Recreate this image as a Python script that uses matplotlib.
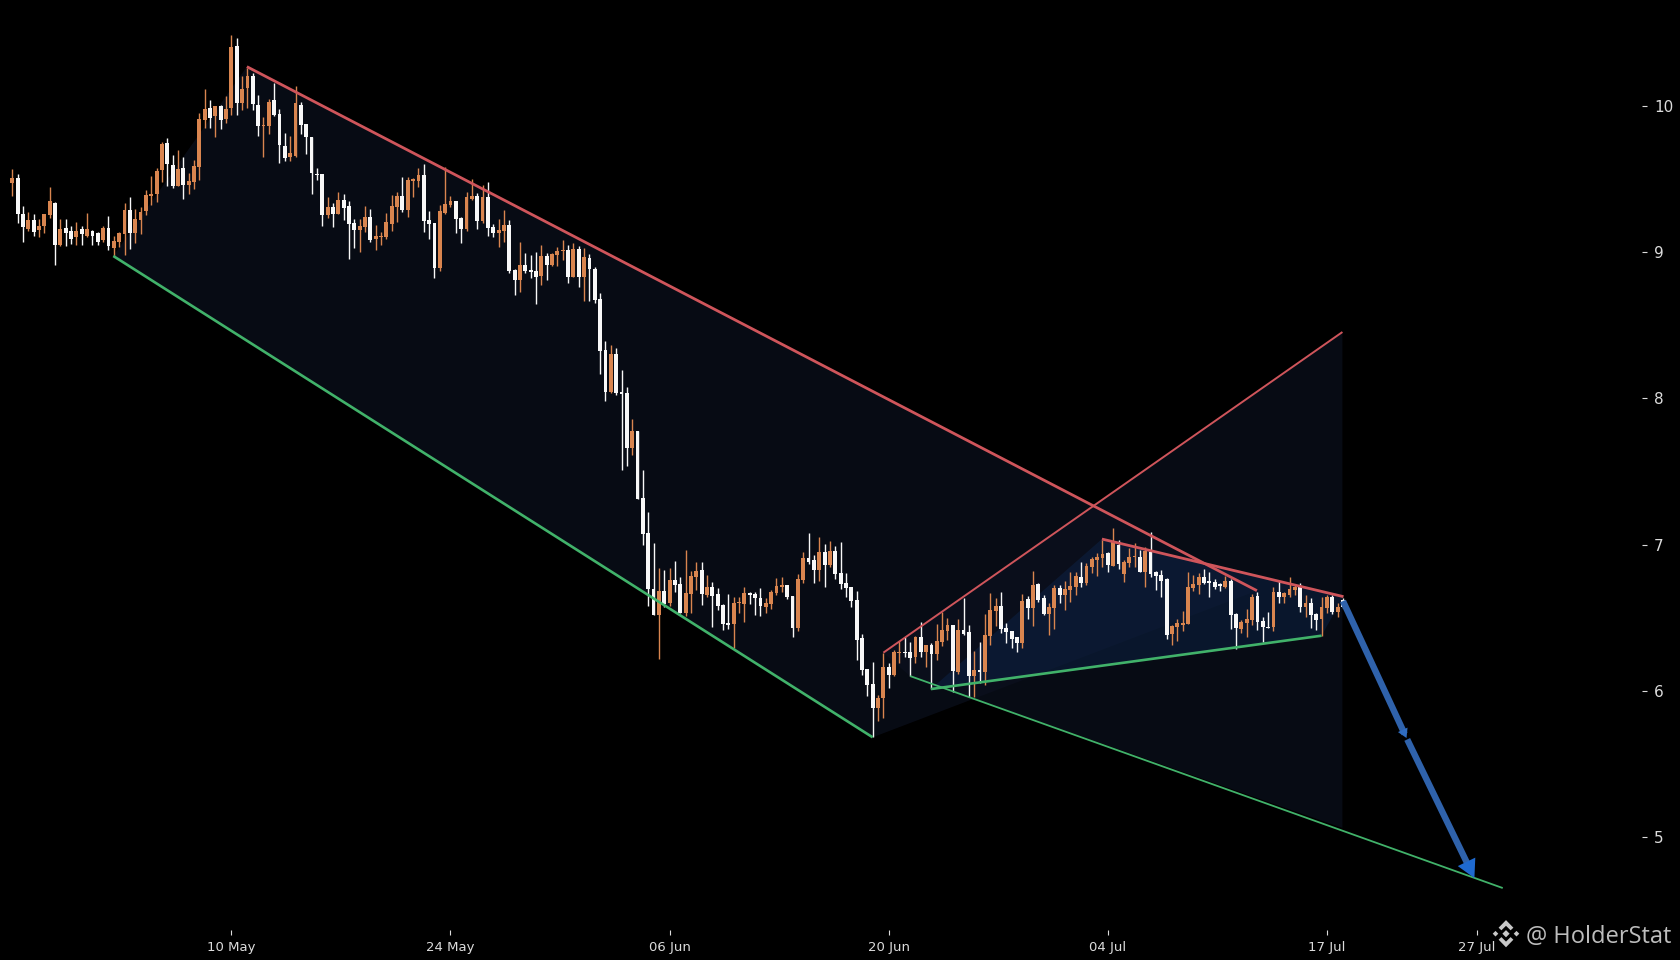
import matplotlib
matplotlib.use("Agg")
import matplotlib.pyplot as plt
from matplotlib.patches import Polygon
import numpy as np

candle_type = ("OWWOWOOOWO" "WWOWOWWOWO" "OOWOOOOOOW" "WOWOOOOWOW" "OOWOOWWOOW"
               "WWOOWWWWWO" "WOWWWOOWOO" "OOOWOOOWWW" "OOOWWOOWOW" "WOOWWOWWWO"
               "WOOOWOWOWW" "WWOWWWOWWW" "WOWOWWOOOW" "OWWWWOOOWW" "WOOOOWWOOW"
               "WOWOWWWWWW" "WWOOWOOWWO" "WOWOOOWOWW" "OWOOOWWWWO" "WOWWOOWOOO"
               "WOOOOWOWOO" "OWOWWWWOOO" "OOOWWWWOWW" "OOOWWWOWOO" "OWOWWOOWOW")

highs = [9.569,9.532,9.316,9.277,9.261,9.225,9.261,9.443,9.345,9.225,
         9.227,9.179,9.209,9.179,9.270,9.152,9.140,9.179,9.247,9.111,
         9.140,9.339,9.380,9.293,9.311,9.425,9.521,9.573,9.756,9.779,
         9.665,9.699,9.649,9.539,9.630,9.954,10.116,10.041,10.000,10.007,
         10.068,10.485,10.463,10.205,10.257,10.223,10.075,9.927,10.045,10.155,
         9.977,9.813,9.795,10.137,10.025,9.877,9.785,9.573,9.535,9.380,
         9.339,9.414,9.398,9.350,9.224,9.224,9.316,9.293,9.186,9.140,
         9.265,9.391,9.414,9.512,9.512,9.505,9.573,9.603,9.281,9.202,
         9.322,9.585,9.384,9.350,9.238,9.414,9.498,9.402,9.459,9.482,
         9.192,9.224,9.288,9.220,8.882,9.072,8.992,8.980,9.003,9.049,
         8.996,8.992,9.033,9.083,9.049,9.065,9.042,9.026,8.987,8.901,
         8.718,8.394,8.365,8.342,8.194,8.080,7.857,7.779,7.510,7.221,
         7.013,6.838,6.826,6.838,6.888,6.776,6.963,6.822,6.879,6.879,
         6.792,6.746,6.701,6.594,6.662,6.639,6.639,6.708,6.678,6.678,
         6.701,6.632,6.689,6.771,6.781,6.724,6.651,6.799,6.952,7.077,
         6.929,7.050,7.004,7.022,6.993,7.015,6.808,6.712,6.680,6.386,
         6.147,6.199,5.971,6.256,6.188,6.279,6.343,6.370,6.336,6.377,
         6.473,6.313,6.329,6.457,6.541,6.500,6.450,6.491,6.637,6.450,
         6.274,6.336,6.525,6.671,6.632,6.673,6.461,6.409,6.365,6.662,
         6.648,6.819,6.735,6.655,6.598,6.723,6.723,6.753,6.810,6.810,
         6.883,6.872,6.913,6.940,7.031,6.947,7.111,7.031,6.894,6.974,
         7.008,6.963,6.986,7.088,6.821,6.826,6.769,6.450,6.489,6.548,
         6.815,6.792,6.808,6.833,6.815,6.762,6.735,6.785,6.762,6.534,
         6.484,6.559,6.662,6.678,6.502,6.541,6.712,6.751,6.678,6.776,
         6.730,6.739,6.655,6.632,6.530,6.644,6.655,6.655,6.598,6.632]

body_tops = [9.507,9.505,9.259,9.220,9.220,9.179,9.259,9.350,9.339,9.158,
             9.163,9.145,9.145,9.158,9.158,9.142,9.129,9.165,9.165,9.076,
             9.129,9.288,9.288,9.225,9.275,9.389,9.396,9.557,9.740,9.749,
             9.596,9.569,9.573,9.487,9.589,9.909,9.979,9.986,9.998,10.000,
             9.979,10.406,10.410,10.116,10.207,10.205,10.007,9.870,10.025,10.041,
             9.945,9.726,9.676,10.018,10.007,9.874,9.785,9.532,9.532,9.307,
             9.311,9.357,9.357,9.318,9.202,9.179,9.238,9.243,9.110,9.113,
             9.208,9.316,9.386,9.384,9.493,9.500,9.528,9.528,9.220,9.197,
             9.281,9.329,9.350,9.350,9.231,9.379,9.384,9.384,9.379,9.379,
             9.170,9.151,9.186,9.186,8.878,8.910,8.910,8.878,8.871,8.974,
             8.974,8.987,9.010,9.015,9.015,9.019,9.024,8.964,8.960,8.887,
             8.682,8.331,8.303,8.303,8.043,8.034,7.777,7.779,7.316,7.077,
             6.694,6.683,6.683,6.758,6.758,6.730,6.671,6.785,6.819,6.826,
             6.710,6.710,6.660,6.587,6.461,6.598,6.607,6.671,6.671,6.660,
             6.632,6.603,6.678,6.717,6.724,6.721,6.651,6.765,6.908,6.906,
             6.895,6.949,6.949,6.956,6.956,6.803,6.735,6.712,6.621,6.359,
             6.147,6.046,5.948,6.165,6.160,6.263,6.267,6.265,6.263,6.365,
             6.370,6.311,6.313,6.340,6.416,6.450,6.448,6.416,6.416,6.402,
             6.142,6.140,6.381,6.552,6.580,6.580,6.429,6.409,6.365,6.616,
             6.625,6.723,6.730,6.632,6.571,6.703,6.703,6.696,6.719,6.785,
             6.776,6.853,6.899,6.917,6.933,6.940,7.020,6.997,6.883,6.917,
             6.924,6.917,6.958,6.951,6.810,6.792,6.762,6.443,6.461,6.466,
             6.712,6.728,6.776,6.776,6.751,6.744,6.730,6.751,6.751,6.525,
             6.473,6.491,6.644,6.648,6.477,6.438,6.678,6.676,6.666,6.698,
             6.712,6.707,6.598,6.598,6.525,6.571,6.644,6.644,6.575,6.621]

body_bottoms = [9.475,9.261,9.174,9.156,9.138,9.152,9.179,9.254,9.049,9.047,
                9.133,9.090,9.104,9.124,9.108,9.111,9.070,9.083,9.042,9.028,
                9.072,9.124,9.129,9.129,9.220,9.279,9.386,9.398,9.562,9.603,
                9.455,9.453,9.459,9.459,9.480,9.585,9.904,9.920,9.931,9.904,
                9.909,9.984,10.023,10.023,10.121,10.013,9.863,9.865,9.863,9.938,
                9.733,9.646,9.649,9.658,9.870,9.785,9.544,9.525,9.254,9.252,
                9.261,9.261,9.300,9.192,9.151,9.151,9.170,9.083,9.088,9.106,
                9.106,9.192,9.311,9.288,9.288,9.489,9.489,9.215,9.192,8.889,
                8.889,9.270,9.322,9.227,9.156,9.156,9.366,9.215,9.213,9.163,
                9.133,9.129,9.147,8.873,8.809,8.809,8.873,8.864,8.832,8.837,
                8.912,8.912,8.980,9.006,8.832,8.832,8.828,8.828,8.882,8.673,
                8.326,8.043,8.043,8.034,8.030,7.658,7.658,7.312,7.072,6.696,
                6.518,6.518,6.594,6.598,6.724,6.530,6.530,6.662,6.781,6.662,
                6.658,6.651,6.582,6.457,6.452,6.457,6.598,6.594,6.657,6.635,
                6.580,6.575,6.594,6.667,6.712,6.644,6.427,6.427,6.758,6.883,
                6.826,6.826,6.860,6.860,6.799,6.730,6.701,6.616,6.347,6.142,
                6.040,5.880,5.880,5.948,6.108,6.108,6.261,6.261,6.226,6.229,
                6.263,6.265,6.251,6.249,6.336,6.409,6.137,6.131,6.388,6.101,
                6.101,6.128,6.128,6.375,6.543,6.420,6.402,6.354,6.324,6.324,
                6.566,6.566,6.621,6.525,6.525,6.566,6.657,6.653,6.689,6.707,
                6.735,6.735,6.849,6.894,6.906,6.858,6.856,6.865,6.799,6.872,
                6.913,6.815,6.815,6.796,6.787,6.753,6.381,6.388,6.438,6.450,
                6.457,6.701,6.721,6.739,6.739,6.707,6.717,6.707,6.518,6.432,
                6.420,6.461,6.484,6.473,6.438,6.432,6.434,6.644,6.639,6.657,
                6.689,6.571,6.571,6.518,6.484,6.489,6.564,6.541,6.541,6.571]

lows = [9.384,9.197,9.072,9.147,9.111,9.106,9.133,9.231,8.912,9.042,
        9.042,9.056,9.049,9.049,9.106,9.049,9.049,9.072,9.015,8.974,
        9.038,8.981,9.019,9.065,9.124,9.254,9.323,9.345,9.482,9.455,
        9.441,9.453,9.364,9.398,9.430,9.494,9.852,9.852,9.785,9.840,
        9.886,9.938,9.938,9.972,9.984,9.972,9.797,9.653,9.806,9.931,
        9.612,9.626,9.626,9.653,9.808,9.671,9.398,9.494,9.179,9.231,
        9.170,9.261,9.220,8.951,9.026,9.001,9.140,9.072,9.015,9.047,
        9.088,9.147,9.208,9.277,9.238,9.375,9.448,9.140,9.088,8.821,
        8.873,9.261,9.311,9.133,9.060,9.147,9.357,9.156,9.197,9.110,
        9.106,9.033,9.072,8.855,8.707,8.730,8.860,8.821,8.645,8.775,
        8.809,8.905,8.905,8.946,8.791,8.828,8.759,8.668,8.668,8.650,
        8.166,7.980,8.034,8.023,7.510,7.538,7.613,7.310,6.997,6.580,
        6.518,6.215,6.570,6.580,6.678,6.530,6.512,6.534,6.689,6.587,
        6.644,6.434,6.553,6.416,6.420,6.290,6.530,6.473,6.594,6.518,
        6.512,6.530,6.557,6.655,6.678,6.626,6.370,6.411,6.735,6.867,
        6.735,6.753,6.708,6.844,6.762,6.694,6.644,6.571,6.211,6.108,
        5.964,5.682,5.796,5.812,6.021,6.101,6.192,6.229,6.101,6.188,
        6.233,6.160,6.012,6.210,6.306,6.347,5.994,6.115,6.381,5.960,
        5.960,6.051,6.039,6.313,6.443,6.393,6.329,6.290,6.263,6.290,
        6.489,6.443,6.609,6.518,6.381,6.420,6.598,6.552,6.609,6.655,
        6.712,6.723,6.808,6.787,6.849,6.815,6.853,6.831,6.746,6.849,
        6.849,6.815,6.712,6.780,6.689,6.639,6.352,6.313,6.343,6.411,
        6.457,6.685,6.662,6.730,6.639,6.696,6.682,6.701,6.422,6.283,
        6.393,6.370,6.450,6.416,6.336,6.427,6.411,6.598,6.598,6.644,
        6.655,6.541,6.507,6.427,6.416,6.375,6.530,6.525,6.507,6.564]

tick_index = [41, 82, 123, 164, 205, 246, 274]
tick_labels = ["10 May", "24 May", "06 Jun", "20 Jun", "04 Jul", "17 Jul", "27 Jul"]
price_ticks = [5, 6, 7, 8, 9, 10]

channel_top = ([43.9, 232.9], [10.269, 6.685])
channel_bottom = ([18.9, 161.0], [8.974, 5.682])
wedge_top = ([163.0, 248.9], [6.261, 8.454])
wedge_bottom = ([168.0, 278.9], [6.101, 4.651])
wedge_corner = (248.9, 5.062)
triangle_top = ([203.9, 249.1], [7.038, 6.644])
triangle_bottom = ([171.9, 245.0], [6.012, 6.377])
arrow_path = ([249.0, 260.9, 273.6], [6.614, 5.677, 4.719])

ORANGE = "#d9854f"
WHITE = "#f8f8f8"
RED = "#cf555b"
GREEN = "#41b26a"
SHAFT = "#2f62ab"
HEAD = "#1f6ad0"
TXT = "#dcdcdc"

W, H = 1680, 960
fig = plt.figure(figsize=(W / 100, H / 100), dpi=100, facecolor="black")
ax = fig.add_axes([0, 30 / H, 1642 / W, 930 / H], facecolor="black")
ax.set_xlim(-2.30, 304.96)
ax.set_ylim(4.364, 10.725)
for s in ax.spines.values():
    s.set_visible(False)

# shaded regions
region1 = list(zip(channel_bottom[0][:1] + channel_top[0] + channel_bottom[0][1:],
                   channel_bottom[1][:1] + channel_top[1] + channel_bottom[1][1:]))
region2 = [(wedge_top[0][0], wedge_top[1][0]), (wedge_top[0][1], wedge_top[1][1]),
           wedge_corner, (wedge_bottom[0][0], wedge_bottom[1][0])]
region3 = [(triangle_top[0][0], triangle_top[1][0]), (triangle_top[0][1], triangle_top[1][1]),
           (triangle_bottom[0][1], triangle_bottom[1][1]), (triangle_bottom[0][0], triangle_bottom[1][0])]
ax.add_patch(Polygon(region1, closed=True, fc="#0c1120", ec="none", alpha=0.65, zorder=1))
ax.add_patch(Polygon(region2, closed=True, fc="#0c1120", ec="none", alpha=0.65, zorder=1))
ax.add_patch(Polygon(region3, closed=True, fc="#0f3264", ec="none", alpha=0.30, zorder=1))

# candles
x = np.arange(len(highs))
colors = [ORANGE if c == "O" else WHITE for c in candle_type]
ax.vlines(x, lows, highs, colors=colors, lw=1.0, zorder=3)
ax.bar(x, np.array(body_tops) - np.array(body_bottoms), bottom=body_bottoms, width=0.72,
       color=colors, linewidth=0, zorder=4)

# trend lines
ax.plot(*channel_top, color=RED, lw=2.0, zorder=5, solid_capstyle="butt")
ax.plot(*channel_bottom, color=GREEN, lw=1.9, zorder=5, solid_capstyle="butt")
ax.plot(*wedge_top, color=RED, lw=1.4, zorder=5, solid_capstyle="butt")
ax.plot(*wedge_bottom, color=GREEN, lw=1.3, zorder=5, solid_capstyle="butt")
ax.plot(*triangle_top, color=RED, lw=2.0, zorder=5, solid_capstyle="butt")
ax.plot(*triangle_bottom, color=GREEN, lw=1.9, zorder=5, solid_capstyle="butt")

# forecast arrow: two legs, each ending in a head
px, py = np.array(arrow_path[0]), np.array(arrow_path[1])
def along(i, f):
    return (px[i] + f * (px[i + 1] - px[i]), py[i] + f * (py[i + 1] - py[i]))
leg1 = [along(0, 0.0), along(0, 0.97)]
leg2 = [along(1, 0.01), along(1, 0.92)]
for leg in (leg1, leg2):
    ax.plot(*zip(*leg), color=SHAFT, lw=4.6, zorder=6, solid_capstyle="butt")
ax.annotate("", xy=along(0, 1.0), xytext=along(0, 0.9),
            arrowprops=dict(arrowstyle="-|>,head_length=0.65,head_width=0.38", fc="#2f6cc0", ec="none",
                            lw=0, shrinkA=0, shrinkB=0, mutation_scale=10), zorder=7)
ax.annotate("", xy=along(1, 1.0), xytext=along(1, 0.85),
            arrowprops=dict(arrowstyle="-|>,head_length=1.3,head_width=0.7", fc=HEAD, ec="none",
                            lw=0, shrinkA=0, shrinkB=0, mutation_scale=10), zorder=7)

# axes ticks
ax.set_xticks(tick_index)
ax.set_xticklabels(tick_labels, fontsize=9.5, color=TXT, family="DejaVu Sans")
ax.tick_params(axis="x", length=3.6, width=0.8, color=TXT, pad=4, top=False, bottom=True)
ax.yaxis.tick_right()
ax.set_yticks(price_ticks)
ax.set_yticklabels([str(v) for v in price_ticks], fontsize=11, color=TXT, family="DejaVu Sans")
ax.tick_params(axis="y", length=3.6, width=0.8, color=TXT, pad=5)

# watermark
ov = fig.add_axes([0, 0, 1, 1], facecolor="none")
ov.set_xlim(0, W)
ov.set_ylim(H, 0)
ov.axis("off")
LOGO = "#c8c8c8"
cx, cy = 1506, 933.7
def diamond(dx, dy, r):
    return [(cx + dx - r, cy + dy), (cx + dx, cy + dy - r), (cx + dx + r, cy + dy), (cx + dx, cy + dy + r)]
for d in [diamond(0, 0, 3.6), diamond(-10.5, 0, 2.8), diamond(10.5, 0, 2.8)]:
    ov.add_patch(Polygon(d, closed=True, fc=LOGO, ec="none"))
for sgn in (-1, 1):
    chev = [(cx - 7.4, cy + sgn * 6.0), (cx, cy + sgn * 13.6), (cx + 7.4, cy + sgn * 6.0),
            (cx + 4.6, cy + sgn * 3.4), (cx, cy + sgn * 7.9), (cx - 4.6, cy + sgn * 3.4)]
    ov.add_patch(Polygon(chev, closed=True, fc=LOGO, ec="none"))
ov.text(1526, 934, "@ HolderStat", fontsize=17, color="#bdbdbd", family="Open Sans",
        ha="left", va="center_baseline")

fig.savefig("out.png", dpi=100, facecolor="black")
